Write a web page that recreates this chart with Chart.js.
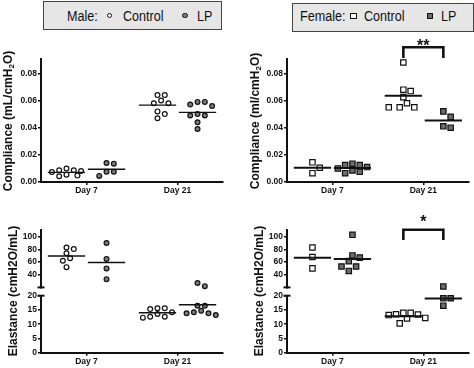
<!DOCTYPE html>
<html><head><meta charset="utf-8">
<script src="https://cdn.jsdelivr.net/npm/chart.js@4.4.1/dist/chart.umd.min.js"></script>
<style>
html,body{margin:0;padding:0;background:#fff;width:474px;height:368px;overflow:hidden;position:relative;font-family:'Liberation Sans',Arial,sans-serif;color:#111}
canvas{position:absolute}
.lg{position:absolute;box-sizing:border-box;border:1.5px solid #444;background:#e6e6e6}
.lt{position:absolute;font-size:14px;line-height:14px;white-space:nowrap;color:#111;transform:scaleX(0.9);transform-origin:0 0}
.mk{position:absolute;box-sizing:border-box;border:1.2px solid #111}
.yt{position:absolute;transform:translate(-50%,-50%) rotate(-90deg);font-weight:bold;font-size:12px;white-space:nowrap;line-height:14px}
.yt sub{font-size:8px;vertical-align:-2px;line-height:0}
</style></head><body>
<script>
// ---------- data ----------
const categories = ['Day 7', 'Day 21'];
const seriesNames = ['Control', 'LP'];
const sexLabels = ['Male', 'Female'];

// Compliance (mL/cmH2O)
const maleComplianceControlDay7  = [0.0081, 0.0054, 0.0086, 0.0099, 0.0086, 0.0042, 0.0047, 0.0074];
const maleComplianceLPDay7       = [0.0140, 0.0135, 0.0075, 0.0075, 0.0045];
const maleComplianceControlDay21 = [0.064, 0.064, 0.060, 0.058, 0.058, 0.052, 0.050, 0.047];
const maleComplianceLPDay21      = [0.059, 0.057, 0.056, 0.059, 0.050, 0.049, 0.049, 0.044, 0.039];
const femaleComplianceControlDay7  = [0.0145, 0.0105, 0.0065];
const femaleComplianceLPDay7       = [0.0110, 0.0125, 0.0125, 0.0135, 0.0085, 0.0065, 0.0075, 0.0100];
const femaleComplianceControlDay21 = [0.088, 0.067, 0.068, 0.0625, 0.055, 0.055, 0.055, 0.058];
const femaleComplianceLPDay21      = [0.052, 0.048, 0.040, 0.041];

// Elastance (cmH2O/mL)
const maleElastanceControlDay7  = [74, 80.5, 83, 66, 62, 52];
const maleElastanceLPDay7       = [90, 65, 50, 33];
const maleElastanceControlDay21 = [14.2, 15.3, 15.6, 15.6, 12.6, 12.3, 12.6, 13.6];
const maleElastanceLPDay21      = [22, 27, 14.7, 16.5, 16.5, 13.8, 13.2, 13.8, 14.2];
const femaleElastanceControlDay7  = [83, 68, 50];
const femaleElastanceLPDay7       = [103, 67, 70.5, 61.5, 53, 53, 46];
const femaleElastanceControlDay21 = [14.0, 13.4, 13.2, 13.5, 14.0, 12.0, 12.2, 10.3];
const femaleElastanceLPDay21      = [21.5, 19.1, 19.1, 16.5];

// tick labels
const complianceTicks = [0, 0.02, 0.04, 0.06, 0.08];
const elastanceUpperTicks = [40, 60, 80, 100];
const elastanceLowerTicks = [0, 5, 10, 15, 20];
const elastanceBreak = 20;
const significanceLabels = ['**', '*'];

// ---------- rendering ----------
const FONT = "'Liberation Sans', Arial, sans-serif";
Chart.defaults.font.family = FONT;
Chart.defaults.color = '#111';
const GROUP_OFFSET = 0.22, MEAN_HALF = 0.205, COL_STEP = 3.65;
const mean = a => a.reduce((s, v) => s + v, 0) / a.length;

const bracketPlugin = {
  id: 'bracket',
  afterDatasetsDraw(chart, args, o) {
    if (!o || !o.label) return;
    const {ctx, scales: {x, y}} = chart;
    const x1 = x.getPixelForValue(o.x1), x2 = x.getPixelForValue(o.x2);
    const yt = y.getPixelForValue(o.top), yf = y.getPixelForValue(o.foot);
    ctx.save();
    ctx.strokeStyle = '#111'; ctx.lineWidth = 2.6; ctx.lineJoin = 'miter'; ctx.lineCap = 'butt';
    ctx.beginPath(); ctx.moveTo(x1, yf); ctx.lineTo(x1, yt); ctx.lineTo(x2, yt); ctx.lineTo(x2, yf); ctx.stroke();
    ctx.fillStyle = '#111'; ctx.font = 'bold 16px ' + FONT; ctx.textAlign = 'center'; ctx.textBaseline = 'alphabetic';
    ctx.fillText(o.label, (x1 + x2) / 2, y.getPixelForValue(o.labelAt) + 0.57 * 16);
    ctx.restore();
  }
};
const breakPlugin = {
  id: 'breakMark',
  afterDraw(chart, args, o) {
    if (!o || !o.edge) return;
    const a = chart.chartArea, ctx = chart.ctx;
    const yy = o.edge === 'bottom' ? a.bottom : a.top;
    ctx.save(); ctx.strokeStyle = '#111'; ctx.lineWidth = 2;
    ctx.beginPath(); ctx.moveTo(a.left - 3.5, yy); ctx.lineTo(a.left + 3.5, yy); ctx.stroke();
    ctx.restore();
  }
};

function makeChart(cfg) {
  const r = cfg.rect, a = cfg.area;
  const cv = document.createElement('canvas');
  cv.width = r.w; cv.height = r.h;
  Object.assign(cv.style, {left: r.l + 'px', top: r.t + 'px', width: r.w + 'px', height: r.h + 'px'});
  document.body.appendChild(cv);
  const keep = cfg.keep || (() => true);
  const isRect = cfg.marker === 'rect';
  const datasets = [];
  cfg.groups.forEach(g => {
    const m = mean(g.values);
    if (!keep(m)) return;
    const c = g.cat + g.side * GROUP_OFFSET;
    datasets.push({data: [{x: c - MEAN_HALF, y: m}, {x: c + MEAN_HALF, y: m}], showLine: true,
      borderColor: '#111', borderWidth: cfg.meanWidth, pointRadius: 0, clip: false});
  });
  cfg.groups.forEach(g => {
    const c = g.cat + g.side * GROUP_OFFSET;
    const vals = g.values.filter(keep);
    if (!vals.length) return;
    datasets.push({data: vals.map(v => ({x: c, y: v})), center: c, swarm: true, showLine: false,
      pointStyle: cfg.marker, pointRadius: isRect ? 3.8 : 2.4, borderWidth: 1.2,
      borderColor: '#111', backgroundColor: g.side < 0 ? '#ffffff' : cfg.lpFill, clip: false});
  });
  const tickFont = {size: 8.5, weight: 'bold', family: FONT};
  const gridOpts = {display: true, drawOnChartArea: false, drawTicks: true, tickLength: 3, color: '#111', lineWidth: 1.5};
  const chart = new Chart(cv, {
    type: 'scatter',
    data: {datasets},
    plugins: [bracketPlugin, breakPlugin],
    options: {
      animation: false, responsive: false, events: [],
      layout: {padding: {top: a.t - r.t, right: r.l + r.w - a.r, left: 0,
        bottom: cfg.showX ? 0 : (r.t + r.h - a.b)}},
      plugins: {legend: {display: false}, tooltip: {enabled: false},
        bracket: cfg.bracket || false, breakMark: cfg.breakMark || false},
      scales: {
        x: {type: 'linear', min: -0.5, max: 1.5, display: cfg.showX,
          afterFit: s => { s.height = cfg.showX ? (r.t + r.h - a.b) : 0; },
          afterBuildTicks: s => { s.ticks = categories.map((_, i) => ({value: i})); },
          ticks: {callback: v => categories[v], font: tickFont, color: '#111', padding: 1, maxRotation: 0, autoSkip: false},
          grid: gridOpts, border: {display: true, color: '#111', width: 2}},
        y: {type: 'linear', min: cfg.yMin, max: cfg.yMax,
          afterFit: s => { s.width = a.l - r.l; },
          afterBuildTicks: s => { s.ticks = cfg.ticks.map(v => ({value: v})); },
          ticks: {callback: cfg.fmt, font: tickFont, color: '#111', padding: 1},
          grid: gridOpts, border: {display: true, color: '#111', width: 2}}
      }
    }
  });
  // beeswarm layout (half-column grid, elliptical collision) computed through the chart's scales
  const xs = chart.scales.x, ys = chart.scales.y;
  const unit = xs.getPixelForValue(1) - xs.getPixelForValue(0);
  const WX = isRect ? 7.3 : 6.5, WY = isRect ? 6.5 : 5.5;
  chart.data.datasets.forEach(ds => {
    if (!ds.swarm) return;
    const pts = ds.data.map((p, i) => ({i, py: ys.getPixelForValue(p.y)}));
    pts.sort((p, q) => p.py - q.py);
    const placed = [];
    pts.forEach(p => {
      for (let k = 0; k < 60; k++) {
        const col = k === 0 ? 0 : (k % 2 ? (k + 1) / 2 : -k / 2);
        const px = col * COL_STEP;
        const ok = placed.every(q => ((q.px - px) / WX) ** 2 + ((q.py - p.py) / WY) ** 2 >= 1);
        if (ok) { p.px = px; placed.push(p); break; }
      }
    });
    placed.forEach(p => { ds.data[p.i].x = ds.center + p.px / unit; });
  });
  chart.update('none');
  return chart;
}

const fmtComp = v => v.toFixed(2);
const fmtEl = v => String(v);
const maleLP = '#7c7c7c', femaleLP = '#6c6c6c';

// Compliance panels
makeChart({rect: {l: 0, t: 32, w: 237, h: 168}, area: {l: 41, t: 59, r: 223, b: 182}, showX: true,
  yMin: 0, yMax: 0.0906, ticks: complianceTicks, fmt: fmtComp, marker: 'circle', lpFill: maleLP, meanWidth: 1.3,
  groups: [
    {cat: 0, side: -1, values: maleComplianceControlDay7}, {cat: 0, side: 1, values: maleComplianceLPDay7},
    {cat: 1, side: -1, values: maleComplianceControlDay21}, {cat: 1, side: 1, values: maleComplianceLPDay21}]});
makeChart({rect: {l: 237, t: 32, w: 237, h: 168}, area: {l: 287, t: 59, r: 470, b: 182}, showX: true,
  yMin: 0, yMax: 0.0906, ticks: complianceTicks, fmt: fmtComp, marker: 'rect', lpFill: femaleLP, meanWidth: 2,
  bracket: {x1: 1 - GROUP_OFFSET, x2: 1 + GROUP_OFFSET, top: 0.0992, foot: 0.0913, labelAt: 0.1033, label: significanceLabels[0]},
  groups: [
    {cat: 0, side: -1, values: femaleComplianceControlDay7}, {cat: 0, side: 1, values: femaleComplianceLPDay7},
    {cat: 1, side: -1, values: femaleComplianceControlDay21}, {cat: 1, side: 1, values: femaleComplianceLPDay21}]});

// Elastance panels (broken axis: upper and lower segments)
const maleElGroups = [
  {cat: 0, side: -1, values: maleElastanceControlDay7}, {cat: 0, side: 1, values: maleElastanceLPDay7},
  {cat: 1, side: -1, values: maleElastanceControlDay21}, {cat: 1, side: 1, values: maleElastanceLPDay21}];
const femaleElGroups = [
  {cat: 0, side: -1, values: femaleElastanceControlDay7}, {cat: 0, side: 1, values: femaleElastanceLPDay7},
  {cat: 1, side: -1, values: femaleElastanceControlDay21}, {cat: 1, side: 1, values: femaleElastanceLPDay21}];
const above = v => v > elastanceBreak, below = v => v <= elastanceBreak;

makeChart({rect: {l: 0, t: 205, w: 237, h: 95}, area: {l: 41, t: 230.4, r: 223, b: 287.4}, showX: false,
  yMin: elastanceBreak, yMax: 110, ticks: elastanceUpperTicks, fmt: fmtEl, marker: 'circle', lpFill: maleLP, meanWidth: 1.5,
  keep: above, breakMark: {edge: 'bottom'}, groups: maleElGroups});
makeChart({rect: {l: 0, t: 285, w: 237, h: 83}, area: {l: 41, t: 295.7, r: 223, b: 352.7}, showX: true,
  yMin: 0, yMax: elastanceBreak, ticks: elastanceLowerTicks, fmt: fmtEl, marker: 'circle', lpFill: maleLP, meanWidth: 1.5,
  keep: below, breakMark: {edge: 'top'}, groups: maleElGroups});
makeChart({rect: {l: 237, t: 205, w: 237, h: 95}, area: {l: 287, t: 230.4, r: 470, b: 287.4}, showX: false,
  yMin: elastanceBreak, yMax: 110, ticks: elastanceUpperTicks, fmt: fmtEl, marker: 'rect', lpFill: femaleLP, meanWidth: 2,
  keep: above, breakMark: {edge: 'bottom'},
  bracket: {x1: 1 - GROUP_OFFSET, x2: 1 + GROUP_OFFSET, top: 111.1, foot: 94.8, labelAt: 129.6, label: significanceLabels[1]},
  groups: femaleElGroups});
makeChart({rect: {l: 237, t: 285, w: 237, h: 83}, area: {l: 287, t: 295.7, r: 470, b: 352.7}, showX: true,
  yMin: 0, yMax: elastanceBreak, ticks: elastanceLowerTicks, fmt: fmtEl, marker: 'rect', lpFill: femaleLP, meanWidth: 2,
  keep: below, breakMark: {edge: 'top'}, groups: femaleElGroups});

// ---------- HTML text: y titles and legends ----------
function addEl(cls, style, html) {
  const d = document.createElement('div');
  d.className = cls; d.style.cssText = style; if (html) d.innerHTML = html;
  document.body.appendChild(d); return d;
}
addEl('yt', 'left:8px;top:120.5px', 'Compliance (mL/cmH<sub>2</sub>O)');
addEl('yt', 'left:254.5px;top:120.5px', 'Compliance (ml/cmH<sub>2</sub>O)');
addEl('yt', 'left:12.5px;top:290.5px', 'Elastance (cmH2O/mL)');
addEl('yt', 'left:258.5px;top:290.5px', 'Elastance (cmH2O/mL)');

const legends = [
  {box: [43, 1, 179, 28.5], texts: [66.5, 122.5, 196.5], marks: [109.3, 185], cy: 15.7, round: true, fill: maleLP},
  {box: [292, 2.5, 182, 29.5], texts: [299.5, 364, 441], marks: [353.5, 430.3], cy: 16.3, round: false, fill: femaleLP}];
legends.forEach((L, k) => {
  addEl('lg', `left:${L.box[0]}px;top:${L.box[1]}px;width:${L.box[2]}px;height:${L.box[3]}px`);
  const labels = [sexLabels[k] + ':', seriesNames[0], seriesNames[1]];
  labels.forEach((t, i) => addEl('lt', `left:${L.texts[i]}px;top:9px`, t));
  const s = L.round ? 5.6 : 6.2;
  L.marks.forEach((mx, i) => addEl('mk', `left:${mx - s / 2}px;top:${L.cy - s / 2}px;width:${s}px;height:${s}px;` +
    `border-radius:${L.round ? '50%' : '0'};background:${i === 0 ? '#fff' : L.fill}`));
});
</script>
</body></html>
